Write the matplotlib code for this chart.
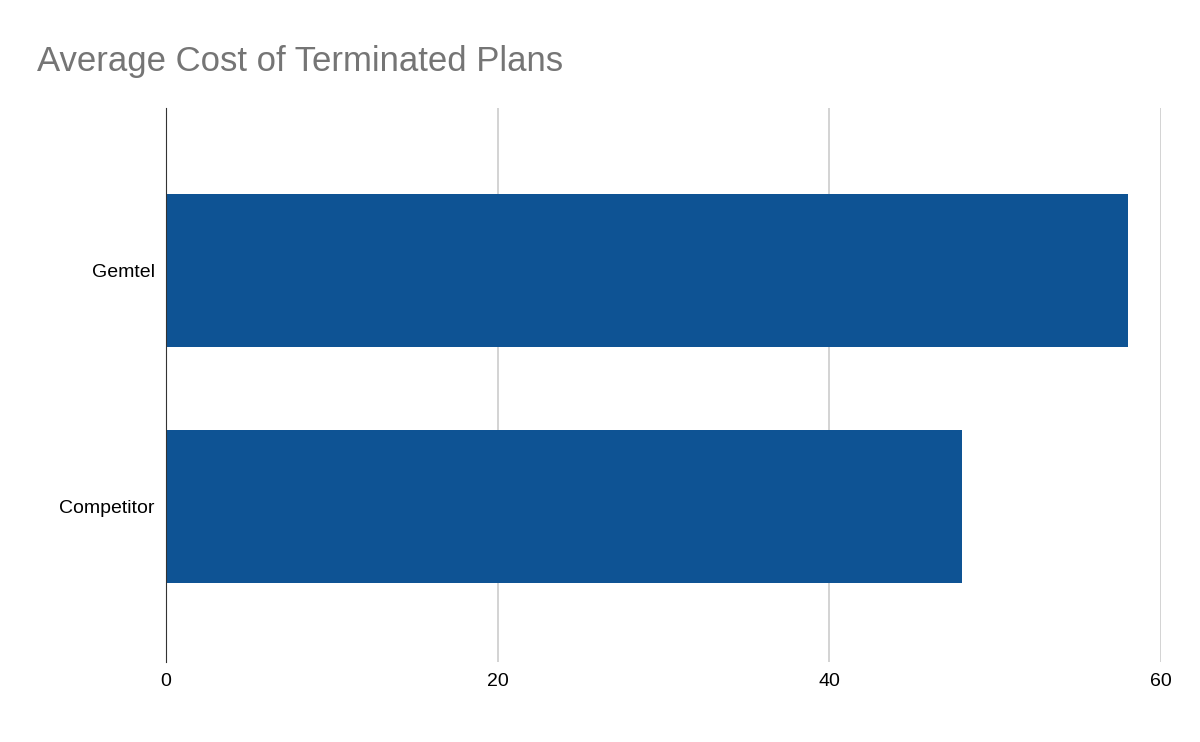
import matplotlib
matplotlib.use("Agg")
import matplotlib.pyplot as plt

categories = ["Gemtel", "Competitor"]
values = [58, 48]
xticks = [0, 20, 40, 60]

plt.rcParams['font.family'] = ['Liberation Sans', 'DejaVu Sans']
fig = plt.figure(figsize=(12, 7.42), dpi=100)
ax = fig.add_axes([0.1383, 0.1078, 0.8292, 0.7466])
ypos = [1, 0]
ax.barh(ypos, values, height=0.65, color="#0E5394", zorder=3)
ax.set_yticks(ypos)
ax.set_yticklabels(categories, fontsize=14)
ax.set_ylim(-0.659, 1.689)
ax.set_xlim(0, 60)
ax.set_xticks(xticks)
ax.set_xticklabels([str(t) for t in xticks], fontsize=14)
ax.grid(axis='x', color="#CCCCCC", linewidth=1.2, zorder=0)
for s in ['top', 'right', 'bottom']:
    ax.spines[s].set_visible(False)
ax.spines['left'].set_color("#333333")
ax.spines['left'].set_zorder(4)
ax.tick_params(length=0, pad=8)
fig.text(37/1200, 1 - 62/742, "Average Cost of Terminated Plans", fontsize=25,
         color="#757575", va='center', ha='left')
fig.savefig("out.png", dpi=100)
